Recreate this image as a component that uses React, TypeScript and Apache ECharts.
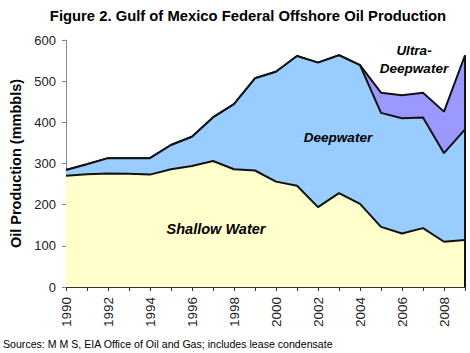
import React, { useEffect, useRef } from "react";
import * as echarts from "echarts";

const years = ["1990","1991","1992","1993","1994","1995","1996","1997","1998","1999","2000","2001","2002","2003","2004","2005","2006","2007","2008","2009"];
const shallowWater = [270, 274, 276, 275, 273, 286, 294, 306, 286, 283, 256, 246, 194, 228, 202, 146, 130, 143, 110, 114];
const deepTop = [284, 298, 313, 313, 313, 345, 365, 412, 444, 507, 523, 561, 545, 563, 539, 423, 410, 412, 325, 383];
const totalTop = [284, 298, 313, 313, 313, 345, 365, 412, 444, 507, 523, 561, 545, 563, 539, 472, 466, 472, 426, 563];

const deepwater = deepTop.map((v, i) => v - shallowWater[i]);
const ultraDeepwater = totalTop.map((v, i) => v - deepTop[i]);
const yTicks = [0, 100, 200, 300, 400, 500, 600];

const FONT = "'Liberation Sans', Arial, sans-serif";

export default function App() {
  const ref = useRef<HTMLDivElement>(null);
  useEffect(() => {
    if (!ref.current) return;
    const chart = echarts.init(ref.current, null, { renderer: "svg" });
    const line = { color: "#111", width: 2 };
    const seriesLabel = { fontSize: 13.5, fontWeight: "bold", fontStyle: "italic", fill: "#000", align: "center", verticalAlign: "middle", fontFamily: FONT };
    chart.setOption({
      animation: false,
      backgroundColor: "#fff",
      textStyle: { fontFamily: FONT },
      title: {
        text: "Figure 2. Gulf of Mexico Federal Offshore Oil Production",
        left: 243,
        textAlign: "center",
        top: 3,
        textStyle: { fontFamily: FONT, fontSize: 14.8, fontWeight: "bold", color: "#000" },
      },
      grid: { left: 62, right: 5, top: 40, bottom: 66 },
      xAxis: {
        type: "category",
        data: years,
        boundaryGap: false,
        axisLine: { lineStyle: { color: "#333", width: 1 } },
        axisTick: { show: true, interval: 0, length: 4, lineStyle: { color: "#333" } },
        axisLabel: { interval: 1, rotate: 90, fontSize: 13.5, color: "#222", fontFamily: FONT, margin: 10 },
        splitLine: { show: false },
      },
      yAxis: {
        type: "value",
        min: yTicks[0],
        max: yTicks[yTicks.length - 1],
        interval: 100,
        name: "Oil Production (mmbbls)",
        nameLocation: "middle",
        nameGap: 43,
        nameRotate: 90,
        nameTextStyle: { fontSize: 14.5, fontWeight: "bold", color: "#000", fontFamily: FONT },
        axisLine: { show: true, lineStyle: { color: "#888" } },
        axisTick: { show: true, length: 4, lineStyle: { color: "#888" } },
        axisLabel: { fontSize: 13, color: "#222", fontFamily: FONT, margin: 10 },
        splitLine: { show: false },
      },
      series: [
        {
          name: "Shallow Water",
          type: "line",
          stack: "total",
          data: shallowWater,
          symbol: "none",
          lineStyle: line,
          areaStyle: { color: "#FFFFCC", opacity: 1 },
          z: 3,
        },
        {
          name: "Deepwater",
          type: "line",
          stack: "total",
          data: deepwater,
          symbol: "none",
          lineStyle: line,
          areaStyle: { color: "#99CCFF", opacity: 1 },
          z: 2,
        },
        {
          name: "Ultra-Deepwater",
          type: "line",
          stack: "total",
          data: ultraDeepwater,
          symbol: "none",
          lineStyle: line,
          areaStyle: { color: "#9999FF", opacity: 1 },
          z: 1,
          markLine: {
            silent: true,
            symbol: "none",
            label: { show: false },
            lineStyle: { color: "#111", width: 2, type: "solid" },
            data: [[{ coord: ["2009", 0] }, { coord: ["2009", totalTop[totalTop.length - 1]] }]],
          },
        },
      ],
      graphic: [
        {
          type: "text",
          left: 3,
          top: 338,
          z: 100,
          style: { text: "Sources: M M S, EIA Office of Oil and Gas; includes lease condensate", fontSize: 10.6, fill: "#000", fontFamily: FONT },
        },
        { type: "text", x: 216, y: 229, z: 100, style: { ...seriesLabel, fontSize: 14.5, text: "Shallow Water" } },
        { type: "text", x: 338, y: 137, z: 100, style: { ...seriesLabel, text: "Deepwater" } },
        { type: "text", x: 414, y: 59, z: 100, style: { ...seriesLabel, text: "Ultra-\nDeepwater", lineHeight: 18 } },
      ],
    });
    return () => chart.dispose();
  }, []);
  return <div ref={ref} style={{ width: 470, height: 353, position: "absolute", left: 0, top: 0 }} />;
}
